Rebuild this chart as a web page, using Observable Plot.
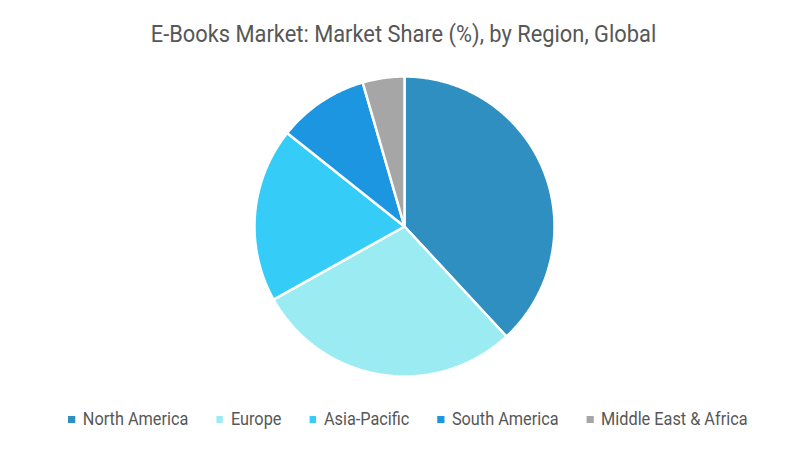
<!DOCTYPE html>
<html><head><meta charset="utf-8">
<script src="https://cdn.jsdelivr.net/npm/d3@7"></script>
<script src="https://cdn.jsdelivr.net/npm/@observablehq/plot@0.6"></script>
<style>
body{margin:0;background:#fff;}
#wrap{position:relative;width:807px;height:450px;overflow:hidden;font-family:Roboto,"Noto Sans",sans-serif;color:#575757;}
#title{position:absolute;left:0;top:22px;width:807px;text-align:center;font-size:24px;line-height:24px;transform:scaleX(.91);transform-origin:403.5px 0;white-space:nowrap;}
#chart{position:absolute;left:0;top:0;}
#legend{position:absolute;left:4px;top:410px;width:807px;display:flex;justify-content:center;font-size:18px;line-height:18px;transform:scaleX(.905);transform-origin:407px 0;white-space:nowrap;}
.item{display:flex;align-items:center;margin:0 15.4px;}
.sw{width:7.7px;height:7px;margin-right:8.5px;}
</style></head>
<body>
<div id="wrap">
  <div id="chart"></div>
  <div id="title">E-Books Market: Market Share (%), by Region, Global</div>
  <div id="legend"></div>
</div>
<script>
const regions = ["North America", "Europe", "Asia-Pacific", "South America", "Middle East & Africa"];
const shares = [38.1, 28.8, 18.8, 9.8, 4.5];
const colors = ["#2e8fc0", "#9aebf2", "#35cdf7", "#1c96e0", "#a6a6a6"];

const rows = regions.map((r, i) => ({region: r, share: shares[i]}));
const arcs = d3.pie().sort(null).value(d => d.share)(rows);
const pts = [];
for (const a of arcs) {
  const reg = a.data.region;
  pts.push({region: reg, x: 0, y: 0});
  const n = Math.max(2, Math.ceil((a.endAngle - a.startAngle) / (Math.PI / 360)));
  for (let k = 0; k <= n; k++) {
    const t = a.startAngle + (a.endAngle - a.startAngle) * k / n;
    pts.push({region: reg, x: Math.sin(t), y: Math.cos(t)});
  }
  pts.push({region: reg, x: 0, y: 0});
}

const chart = Plot.plot({
  width: 807, height: 450,
  marginLeft: 254, marginRight: 253, marginTop: 76, marginBottom: 74,
  x: {domain: [-1, 1], axis: null},
  y: {domain: [-1, 1], axis: null},
  color: {domain: regions, range: colors},
  marks: [
    Plot.line(pts, {x: "x", y: "y", z: "region", fill: "region", stroke: "white", strokeWidth: 2.5, strokeLinejoin: "round"})
  ]
});
document.getElementById("chart").appendChild(chart);

const cs = chart.scale("color");
const leg = d3.select("#legend");
cs.domain.forEach((r) => {
  const it = leg.append("div").attr("class", "item");
  it.append("div").attr("class", "sw").style("background", cs.apply(r));
  it.append("span").text(r);
});
</script>
</body></html>
